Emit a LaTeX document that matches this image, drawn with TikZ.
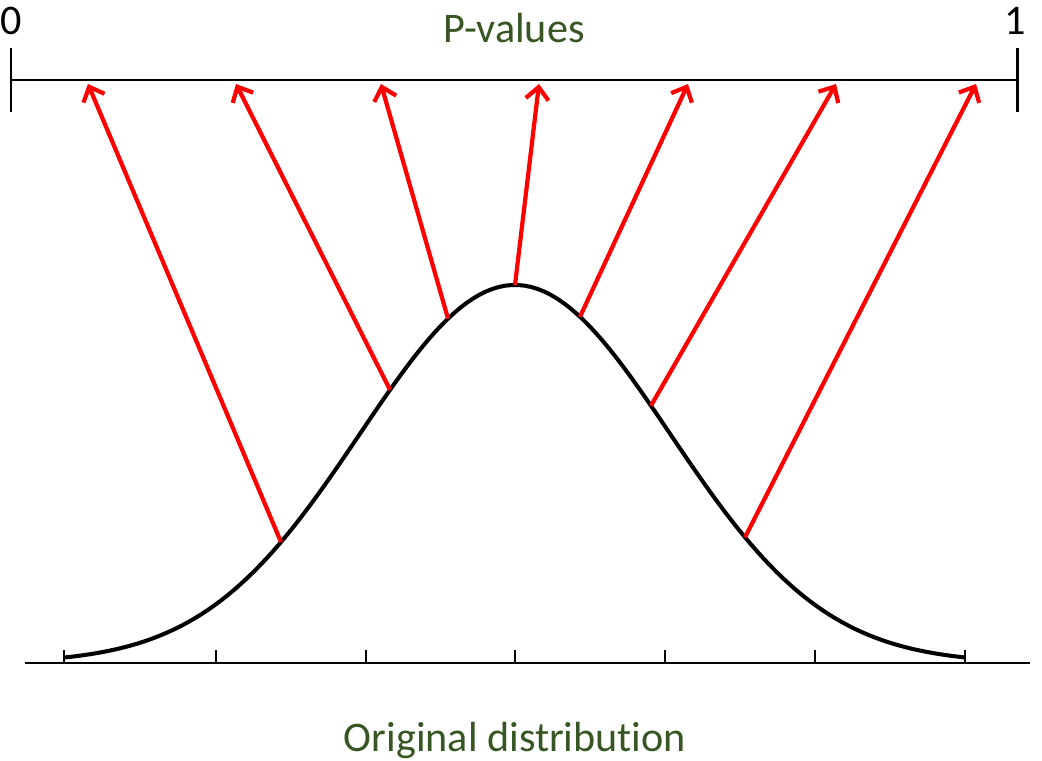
\documentclass[tikz,border=0pt]{standalone}
\usepackage{fontspec}
\setmainfont[Ligatures=NoCommon]{Carlito}
\usetikzlibrary{arrows.meta}
\definecolor{labelgreen}{RGB}{55,86,35}

\begin{document}
\begin{tikzpicture}[x=0.02cm, y=-0.02cm,
    axis/.style={draw=black, line width=1.7pt},
    curve/.style={draw=black, line width=2.3pt},
    pval/.style={draw=red, line width=2.4pt, -{Straight Barb[length=7pt, width=13pt]}},
    title/.style={text=labelgreen, font=\fontsize{24}{28}\selectfont},
    endlabel/.style={font=\fontsize{24}{28}\selectfont},
    declare function={gauss(\x)=663-378*exp(-((\x-515)/155)^2/2);}]
    \useasboundingbox (0,0) rectangle (1042,761);
    % labels
    \node[endlabel] (zero) at (11,21) {0};
    \node[endlabel] (one) at (1015,21) {1};
    \node[title] (ptitle) at (514,28) {P-values};
    \node[title] (otitle) at (515,740) {Original distribution};
    % p-value axis
    \coordinate (pl) at (11,80);
    \coordinate (pr) at (1017,80);
    \draw[axis] (pl) -- (pr);
    \draw[axis] (11,48) -- (11,112);
    \draw[axis] (1017,48) -- (1017,112);
    % original axis
    \draw[axis, line width=1.4pt] (25,663) -- (1030,663);
    \draw[axis, line width=1.4pt] (64,650) -- (64,663);
    \draw[axis, line width=1.4pt] (216,650) -- (216,663);
    \draw[axis, line width=1.4pt] (366,650) -- (366,663);
    \draw[axis, line width=1.4pt] (515,650) -- (515,663);
    \draw[axis, line width=1.4pt] (665,650) -- (665,663);
    \draw[axis, line width=1.4pt] (815,650) -- (815,663);
    \draw[axis, line width=1.4pt] (965,650) -- (965,663);
    % density
    \draw[curve] plot[domain=65:965, samples=140] (\x,{gauss(\x)});
    % points on the curve
    \coordinate (s1) at (281,{gauss(281)});
    \coordinate (s2) at (390,{gauss(390)});
    \coordinate (s3) at (448,{gauss(448)});
    \coordinate (s4) at (515,{gauss(515)});
    \coordinate (s5) at (580,{gauss(580)});
    \coordinate (s6) at (651,{gauss(651)});
    \coordinate (s7) at (745,{gauss(745)});
    % points on the p-value axis
    \coordinate (t1) at (88,84);
    \coordinate (t2) at (236,84);
    \coordinate (t3) at (381,84);
    \coordinate (t4) at (539,84);
    \coordinate (t5) at (688,84);
    \coordinate (t6) at (836,84);
    \coordinate (t7) at (976,84);
    \draw[pval] (s1) -- (t1);
    \draw[pval] (s2) -- (t2);
    \draw[pval] (s3) -- (t3);
    \draw[pval] (s4) -- (t4);
    \draw[pval] (s5) -- (t5);
    \draw[pval] (s6) -- (t6);
    \draw[pval] (s7) -- (t7);
\end{tikzpicture}
\end{document}
